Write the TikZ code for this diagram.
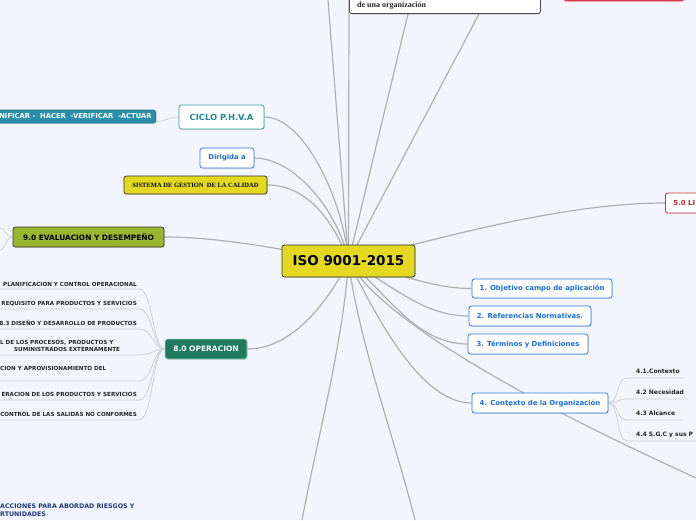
\documentclass[tikz,border=0pt]{standalone}
\usepackage{fontspec}
\setmainfont{DejaVu Sans}
\newfontfamily\serifbf{Liberation Serif}
\usetikzlibrary{shadows}
\definecolor{bgc}{RGB}{242,245,253}
\definecolor{isoy}{RGB}{229,216,32}
\definecolor{teal1}{RGB}{48,160,160}
\definecolor{teal2}{RGB}{32,140,150}
\definecolor{phvac}{RGB}{42,144,170}
\definecolor{blueb}{RGB}{44,123,229}
\definecolor{bluet}{RGB}{26,110,220}
\definecolor{evalg}{RGB}{154,182,46}
\definecolor{opg}{RGB}{31,122,96}
\definecolor{opb}{RGB}{160,217,192}
\definecolor{redb}{RGB}{200,52,63}
\definecolor{redt}{RGB}{192,38,47}
\definecolor{redf}{RGB}{214,58,72}
\definecolor{cgray}{RGB}{176,176,176}
\definecolor{lgray}{RGB}{205,205,208}
\definecolor{navy}{RGB}{30,58,120}
\newcommand\fz[1]{\fontsize{#1}{#1}\selectfont\bfseries}
\pgfdeclarelayer{back}
\pgfdeclarelayer{lines}
\pgfsetlayers{back,lines,main}
\begin{document}
\begin{tikzpicture}[x=1pt,y=-1pt,
  conn/.style={draw=cgray,line width=1.2pt},
  sub/.style={draw=lgray,line width=0.7pt},
  box/.style={rounded corners=2.5pt,line width=0.8pt,inner sep=0pt,
    drop shadow={shadow xshift=0.8pt,shadow yshift=-0.8pt,opacity=0.22}},
  bluebox/.style={box,fill=white,draw=blueb,text=bluet,minimum height=20,font=\fz{6.9}},
  optxt/.style={font=\fz{5.6},text=black!85,inner sep=0pt},
  ctxtxt/.style={font=\fz{6},text=black!85,inner sep=0pt,anchor=base west}]
\useasboundingbox (0,0) rectangle (696,520);
\begin{pgfonlayer}{back}
\fill[bgc] (0,0) rectangle (696,520);
\end{pgfonlayer}

% main nodes
\node[box,fill=isoy,draw=black!80,minimum width=133,minimum height=32,font=\fz{13.5}] (iso) at (348.5,261) {ISO 9001-2015};
\node[box,fill=white,draw=teal1,text=teal2,minimum width=85,minimum height=24,font=\fz{8.4}] (ciclo) at (221.5,117) {CICLO P.H.V.A};
\node[box,fill=phvac,draw=phvac!80!black,text=white,anchor=east,inner xsep=4,minimum height=13,font=\fz{6.8}] (phva) at (156,116.5) {NIFICAR -\ \ HACER\ \ -VERIFICAR\ \ -ACTUAR};
\node[box,fill=white,draw=blueb,text=bluet,minimum width=54,minimum height=20,font=\fz{6.8}] (dir) at (227,158) {Dirigida a};
\node[box,fill=isoy,draw=black!80,minimum width=143,minimum height=18,font=\serifbf\bfseries\fontsize{6.5}{7}\selectfont] (sgc) at (195.5,185) {SISTEMA DE GESTION\ \ DE LA CALIDAD};
\node[box,fill=evalg,draw=black!80,minimum width=151,minimum height=20,font=\fz{7.4}] (eval) at (88.5,237) {9.0 EVALUACION Y DESEMPEÑO};
\node[box,fill=opg,draw=opb,text=white,minimum width=82,minimum height=20,font=\fz{7.5}] (op) at (206,349) {8.0 OPERACION};
\node[bluebox,minimum width=140,minimum height=19] (obj) at (542,288.5) {1. Objetivo campo de aplicación};
\node[bluebox,minimum width=122] (ref) at (530,316) {2. Referencias Normativas.};
\node[bluebox,minimum width=120] (term) at (528,344) {3. Términos y Definiciones};
\node[bluebox,minimum width=136] (ctx) at (540,403) {4. Contexto de la Organización};
\node[box,fill=white,draw=redb,text=redt,anchor=west,minimum height=20,text width=40,align=left,inner xsep=8,font=\fz{7}] (l5) at (665,203) {5.0 LI};
\node[box,fill=white,draw=black!70,anchor=south west,minimum width=191,minimum height=34] (topbox) at (349,14) {};
\node[anchor=base west,inner sep=0pt,font=\serifbf\bfseries\fontsize{8}{9}\selectfont,text=black!85] (toptxt) at (357,7.5) {de una organización};
\node[fill=redf,draw=red!12,line width=1pt,rounded corners=3pt,anchor=south,minimum width=122,minimum height=12,inner sep=0pt] (redtop) at (624,2.3) {};

% 4.x children
\node[ctxtxt] (c41) at (636,373) {4.1.Contexto};
\node[ctxtxt] (c42) at (636,394) {4.2 Necesidad};
\node[ctxtxt] (c43) at (636,415) {4.3 Alcance};
\node[ctxtxt] (c44) at (636,436) {4.4 S.G.C y sus P};
\coordinate (u41) at (627,378); \coordinate (e41) at (683,378);
\coordinate (u42) at (627,399); \coordinate (e42) at (688,399);
\coordinate (u43) at (627,420); \coordinate (e43) at (682,420);
\coordinate (u44) at (627,441); \coordinate (e44) at (696,441);

% 8.x children
\node[optxt,anchor=base east] (o1) at (137,286) {PLANIFICACION Y CONTROL OPERACIONAL};
\node[optxt,anchor=base east] (o2) at (137,305) {REQUISITO PARA PRODUCTOS Y SERVICIOS};
\node[optxt,anchor=base east] (o3) at (137,325) {8.3 DISEÑO Y DESARROLLO DE PRODUCTOS};
\node[optxt,anchor=base west] (o4a) at (0,344) {L DE LOS PROCESOS, PRODUCTOS Y};
\node[optxt,anchor=base west] (o4b) at (14,351) {SUMINISTRADOS EXTERNAMENTE};
\node[optxt,anchor=base west] (o5) at (0,370) {CION Y APROVISIONAMIENTO DEL};
\node[optxt,anchor=base east] (o6) at (137,396) {ERACION DE LOS PRODUCTOS Y SERVICIOS};
\node[optxt,anchor=base east] (o7) at (137,416) {CONTROL DE LAS SALIDAS NO CONFORMES};
\foreach \i/\y in {1/289,2/309,3/329,4/355,5/381,6/400,7/420}{
  \coordinate (os\i) at (0,\y);
  \coordinate (oe\i) at (139,\y);
}

% free ends
\coordinate (t1) at (328,0);
\coordinate (t2) at (349,0);
\coordinate (t3) at (408,14);
\coordinate (t4) at (479,14);
\coordinate (bl) at (302,520);
\coordinate (bm) at (415,520);
\coordinate (br) at (696,478);
\coordinate (ev1) at (0,228);
\coordinate (ev2) at (0,250);

\node[anchor=base west,inner sep=0pt,text=navy,font=\fz{6.3}] (acc1) at (0,508.5) {ACCIONES PARA ABORDAD RIESGOS Y};
\node[anchor=base west,inner sep=0pt,text=navy,font=\fz{6.3}] (acc2) at (0,516) {RTUNIDADES};

\begin{pgfonlayer}{lines}
\draw[conn] (iso.center) .. controls +(50,12) and +(-40,0) .. (obj.west);
\draw[conn] (iso.center) .. controls +(45,25) and +(-45,0) .. (ref.west);
\draw[conn] (iso.center) .. controls +(40,35) and +(-50,0) .. (term.west);
\draw[conn] (iso.center) .. controls +(30,60) and +(-50,0) .. (ctx.west);
\draw[conn] (iso.center) .. controls +(45,80) and +(-60,-28) .. (br);
\draw[conn] (iso.center) .. controls +(-5,80) and +(15,-80) .. (bl);
\draw[conn] (iso.center) .. controls +(10,80) and +(-20,-80) .. (bm);
\draw[conn] (iso.center) .. controls +(-25,50) and +(40,0) .. (op.east);
\draw[conn] (eval.east) .. controls +(60,0) and +(-60,-10) .. (iso.center);
\draw[conn] (sgc.east) .. controls +(40,0) and +(-15,-40) .. (iso.center);
\draw[conn] (dir.east) .. controls +(40,0) and +(-10,-50) .. (iso.center);
\draw[conn] (ciclo.east) .. controls +(40,0) and +(-5,-60) .. (iso.center);
\draw[conn] (iso.center) .. controls +(100,-25) and +(-100,0) .. (l5.west);
\draw[conn] (iso.center) -- (t1);
\draw[conn] (iso.center) -- (t2);
\draw[conn] (iso.center) -- (t3);
\draw[conn] (iso.center) -- (t4);
\draw[sub] (phva.east) ++(0,5) .. controls +(10,0) and +(-10,0) .. (ciclo.west);
\draw[sub] (eval.west) .. controls +(-7,0) and +(5,0) .. (ev1);
\draw[sub] (eval.west) .. controls +(-7,0) and +(5,0) .. (ev2);
\foreach \i in {41,42,43,44}{
  \draw[sub] (ctx.east) .. controls +(11,0) and +(-11,0) .. (u\i) -- (e\i);
}
\foreach \i in {1,...,7}{
  \draw[sub] (os\i) -- (oe\i) .. controls +(14,0) and +(-12,0) .. (op.west);
}
\end{pgfonlayer}
\end{tikzpicture}
\end{document}
